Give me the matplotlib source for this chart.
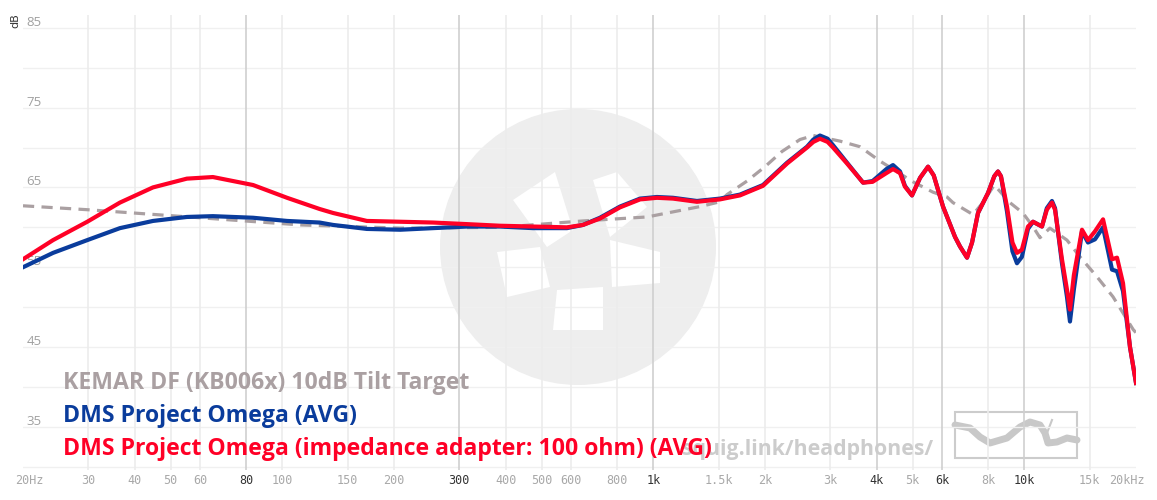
import numpy as np
import matplotlib
matplotlib.use('Agg')
import matplotlib.pyplot as plt
from matplotlib.patches import Circle, Polygon, Rectangle
from matplotlib.transforms import blended_transform_factory, offset_copy

# target curve (Hz, dB)
tgt_f = [20, 30, 60, 112, 208, 386, 646, 962, 1336, 1512, 1580, 1789, 2000, 2222,
         2485, 2700, 3185, 3605, 4083, 5013, 5677, 6190, 6420, 7272, 7700, 8300,
         9142, 9910, 10545, 11020, 11720, 13030, 14130, 15700, 17340, 19650, 20000]
tgt_db = [62.7, 62.2, 61.2, 60.3, 59.9, 60.0, 60.8, 61.3, 62.6, 63.2, 64.1, 65.8, 67.6, 69.5,
          71.0, 71.5, 70.8, 70.1, 68.3, 65.7, 64.4, 63.8, 63.1, 61.6, 63.0, 65.3,
          63.1, 61.8, 60.1, 58.7, 59.9, 58.4, 56.3, 53.8, 51.3, 47.2, 46.8]

# measurements
meas_f = [20, 24.1, 29.8, 36.5, 44.8, 55.3, 65, 83.4, 103, 126, 137, 169, 208, 255,
          315, 386, 474, 585, 646, 718, 813, 921, 1023, 1130, 1311, 1512, 1712,
          1975, 2294, 2596, 2700, 2813, 2950, 3050, 3327, 3676, 3900, 4250, 4426, 4624,
          4766, 4980, 5236, 5502, 5700, 6038, 6504, 6709, 7008, 7230, 7502, 7982,
          8300, 8492, 8650, 8980, 9290, 9554, 9850, 10230, 10554, 11158, 11500,
          11872, 12100, 12632, 13030, 13276, 13600, 14304, 14846, 15506, 16300,
          17234, 17778, 18452, 19268, 20000]
blue_db = [55.0, 56.8, 58.4, 59.9, 60.8, 61.3, 61.4, 61.2, 60.8, 60.6, 60.3, 59.8, 59.7, 59.9,
           60.1, 60.1, 59.9, 59.9, 60.3, 61.2, 62.6, 63.6, 63.8, 63.7, 63.3, 63.6, 64.1,
           65.3, 68.1, 70.1, 71.0, 71.5, 71.1, 70.3, 68.1, 65.6, 65.8, 67.3, 67.8, 67.0,
           65.2, 64.0, 66.2, 67.6, 66.5, 62.6, 58.8, 57.6, 56.2, 58.1, 61.8, 64.3,
           66.4, 67.0, 66.4, 62.0, 57.0, 55.5, 56.3, 59.8, 60.7, 60.1, 62.4,
           63.3, 62.4, 55.5, 51.3, 48.2, 52.2, 59.5, 58.1, 58.5, 60.0,
           54.7, 54.5, 52.0, 45.0, 40.5]
red_db = [56.0, 58.4, 60.7, 63.1, 65.0, 66.1, 66.3, 65.3, 63.7, 62.3, 61.8, 60.8, 60.7, 60.6,
          60.4, 60.2, 60.1, 60.0, 60.3, 61.1, 62.5, 63.5, 63.7, 63.6, 63.2, 63.5, 64.0,
          65.2, 68.0, 70.0, 70.7, 71.1, 70.7, 70.0, 68.0, 65.6, 65.7, 66.8, 67.3, 66.8,
          65.1, 64.0, 66.2, 67.6, 66.5, 62.6, 58.8, 57.6, 56.2, 58.1, 61.8, 64.3,
          66.4, 67.0, 66.4, 62.6, 58.1, 56.8, 57.2, 60.1, 60.7, 60.1, 62.2,
          63.1, 62.2, 56.0, 52.2, 49.7, 54.0, 59.7, 58.4, 59.5, 61.0,
          56.0, 56.2, 53.0, 45.0, 40.5]

names = ['KEMAR DF (KB006x) 10dB Tilt Target', 'DMS Project Omega (AVG)',
         'DMS Project Omega (impedance adapter: 100 ohm) (AVG)']
colors = ['#aaa0a2', '#0a3c9c', '#ff0026']

tick_f = [20, 30, 40, 50, 60, 80, 100, 150, 200, 300, 400, 500, 600, 800, 1000,
          1500, 2000, 3000, 4000, 5000, 6000, 8000, 10000, 15000, 20000]
tick_lbl = ['20Hz', '30', '40', '50', '60', '80', '100', '150', '200', '300', '400', '500',
            '600', '800', '1k', '1.5k', '2k', '3k', '4k', '5k', '6k', '8k', '10k', '15k', '20kHz']
dark_f = [80, 300, 1000, 4000, 6000, 10000]

W, H = 1157, 500
fig = plt.figure(figsize=(W / 100, H / 100), dpi=100)

# background / watermark in pixel coords
bg = fig.add_axes([0, 0, 1, 1])
bg.set_xlim(0, W)
bg.set_ylim(H, 0)
bg.axis('off')
bg.add_patch(Circle((578, 247), 138, color='#eeeeee', lw=0))
blades = [[(513, 200), (555, 172), (573, 230), (547, 247)],
          [(593, 180), (617, 172), (647, 207), (610, 237)],
          [(610, 240), (660, 252), (660, 283), (612, 287)],
          [(557, 290), (603, 287), (603, 330), (553, 330)],
          [(497, 252), (540, 247), (550, 287), (507, 297)]]
for b in blades:
    bg.add_patch(Polygon(b, closed=True, color='white', lw=0))
bg.add_patch(Rectangle((955, 412), 122, 46, fill=False, ec='#cccccc', lw=1.5))
bg.plot([955, 970, 980, 990, 1007, 1020, 1030, 1040, 1045, 1048, 1057, 1067, 1077],
        [425, 428, 437, 443, 438, 427, 422, 425, 433, 443, 442, 438, 440],
        color='#c8c8c8', lw=5, solid_capstyle='round', solid_joinstyle='round')
bg.plot([1052, 1047], [420, 433], color='#c8c8c8', lw=1.5)

ax = fig.add_axes([23 / W, 30 / H, 1113 / W, 455 / H])
ax.patch.set_alpha(0)
ax.set_xscale('log')
ax.set_xlim(20, 20000)
ax.set_ylim(29.6, 86.6)
ax.set_xticks([])
ax.set_yticks([])
ax.xaxis.set_minor_locator(matplotlib.ticker.NullLocator())
for s in ax.spines.values():
    s.set_visible(False)

for v in range(30, 90, 5):
    ax.axhline(v, color='#f0f0f0', lw=1, zorder=0)
for f in tick_f[1:-1]:
    ax.axvline(f, color='#cfcfcf' if f in dark_f else '#ececec', lw=1.2, zorder=0)

ax.plot(tgt_f, tgt_db, color=colors[0], lw=2.3, linestyle=(0, (3.5, 2.3)), zorder=2)
ax.plot(meas_f, blue_db, color=colors[1], lw=3, zorder=3, solid_joinstyle='round')
ax.plot(meas_f, red_db, color=colors[2], lw=3, zorder=4, solid_joinstyle='round')

# axis labels
tx = blended_transform_factory(ax.transData, ax.transAxes)
for f, lbl in zip(tick_f, tick_lbl):
    c = '#333333' if f in dark_f else '#a8a8a8'
    ha, t = 'center', tx
    if f == 20:
        ha, t = 'left', offset_copy(tx, fig, x=-8, y=0, units='dots')
    elif f == 20000:
        ha, t = 'right', offset_copy(tx, fig, x=9, y=0, units='dots')
    ax.text(f, -0.024, lbl, transform=t, ha=ha, va='center', color=c,
            fontsize=8.5, family='DejaVu Sans Mono')

ty = offset_copy(blended_transform_factory(ax.transAxes, ax.transData), fig, x=0, y=2, units='dots')
for v in [35, 45, 55, 65, 75, 85]:
    ax.text(0.003, v, str(v), transform=ty, ha='left', va='baseline', color='#a0a0a0',
            fontsize=9.5, family='Open Sans', zorder=1)
fig.text(15 / W, 1 - 21 / H, 'dB', rotation=90, ha='center', va='center',
         fontsize=8, color='#333333')

# legend + watermark text
fig.text(682 / W, 1 - 455 / H, 'squig.link/headphones/', fontsize=15.3, fontweight='bold',
         family='Open Sans', color='#cccccc', va='baseline', zorder=1)
for i, (n, c) in enumerate(zip(names, colors)):
    fig.text(63 / W, 1 - (389 + 33 * i) / H, n, fontsize=16.6, fontweight='bold',
             family='Open Sans', color=c, va='baseline', zorder=2)

fig.savefig('out.png', dpi=100)
